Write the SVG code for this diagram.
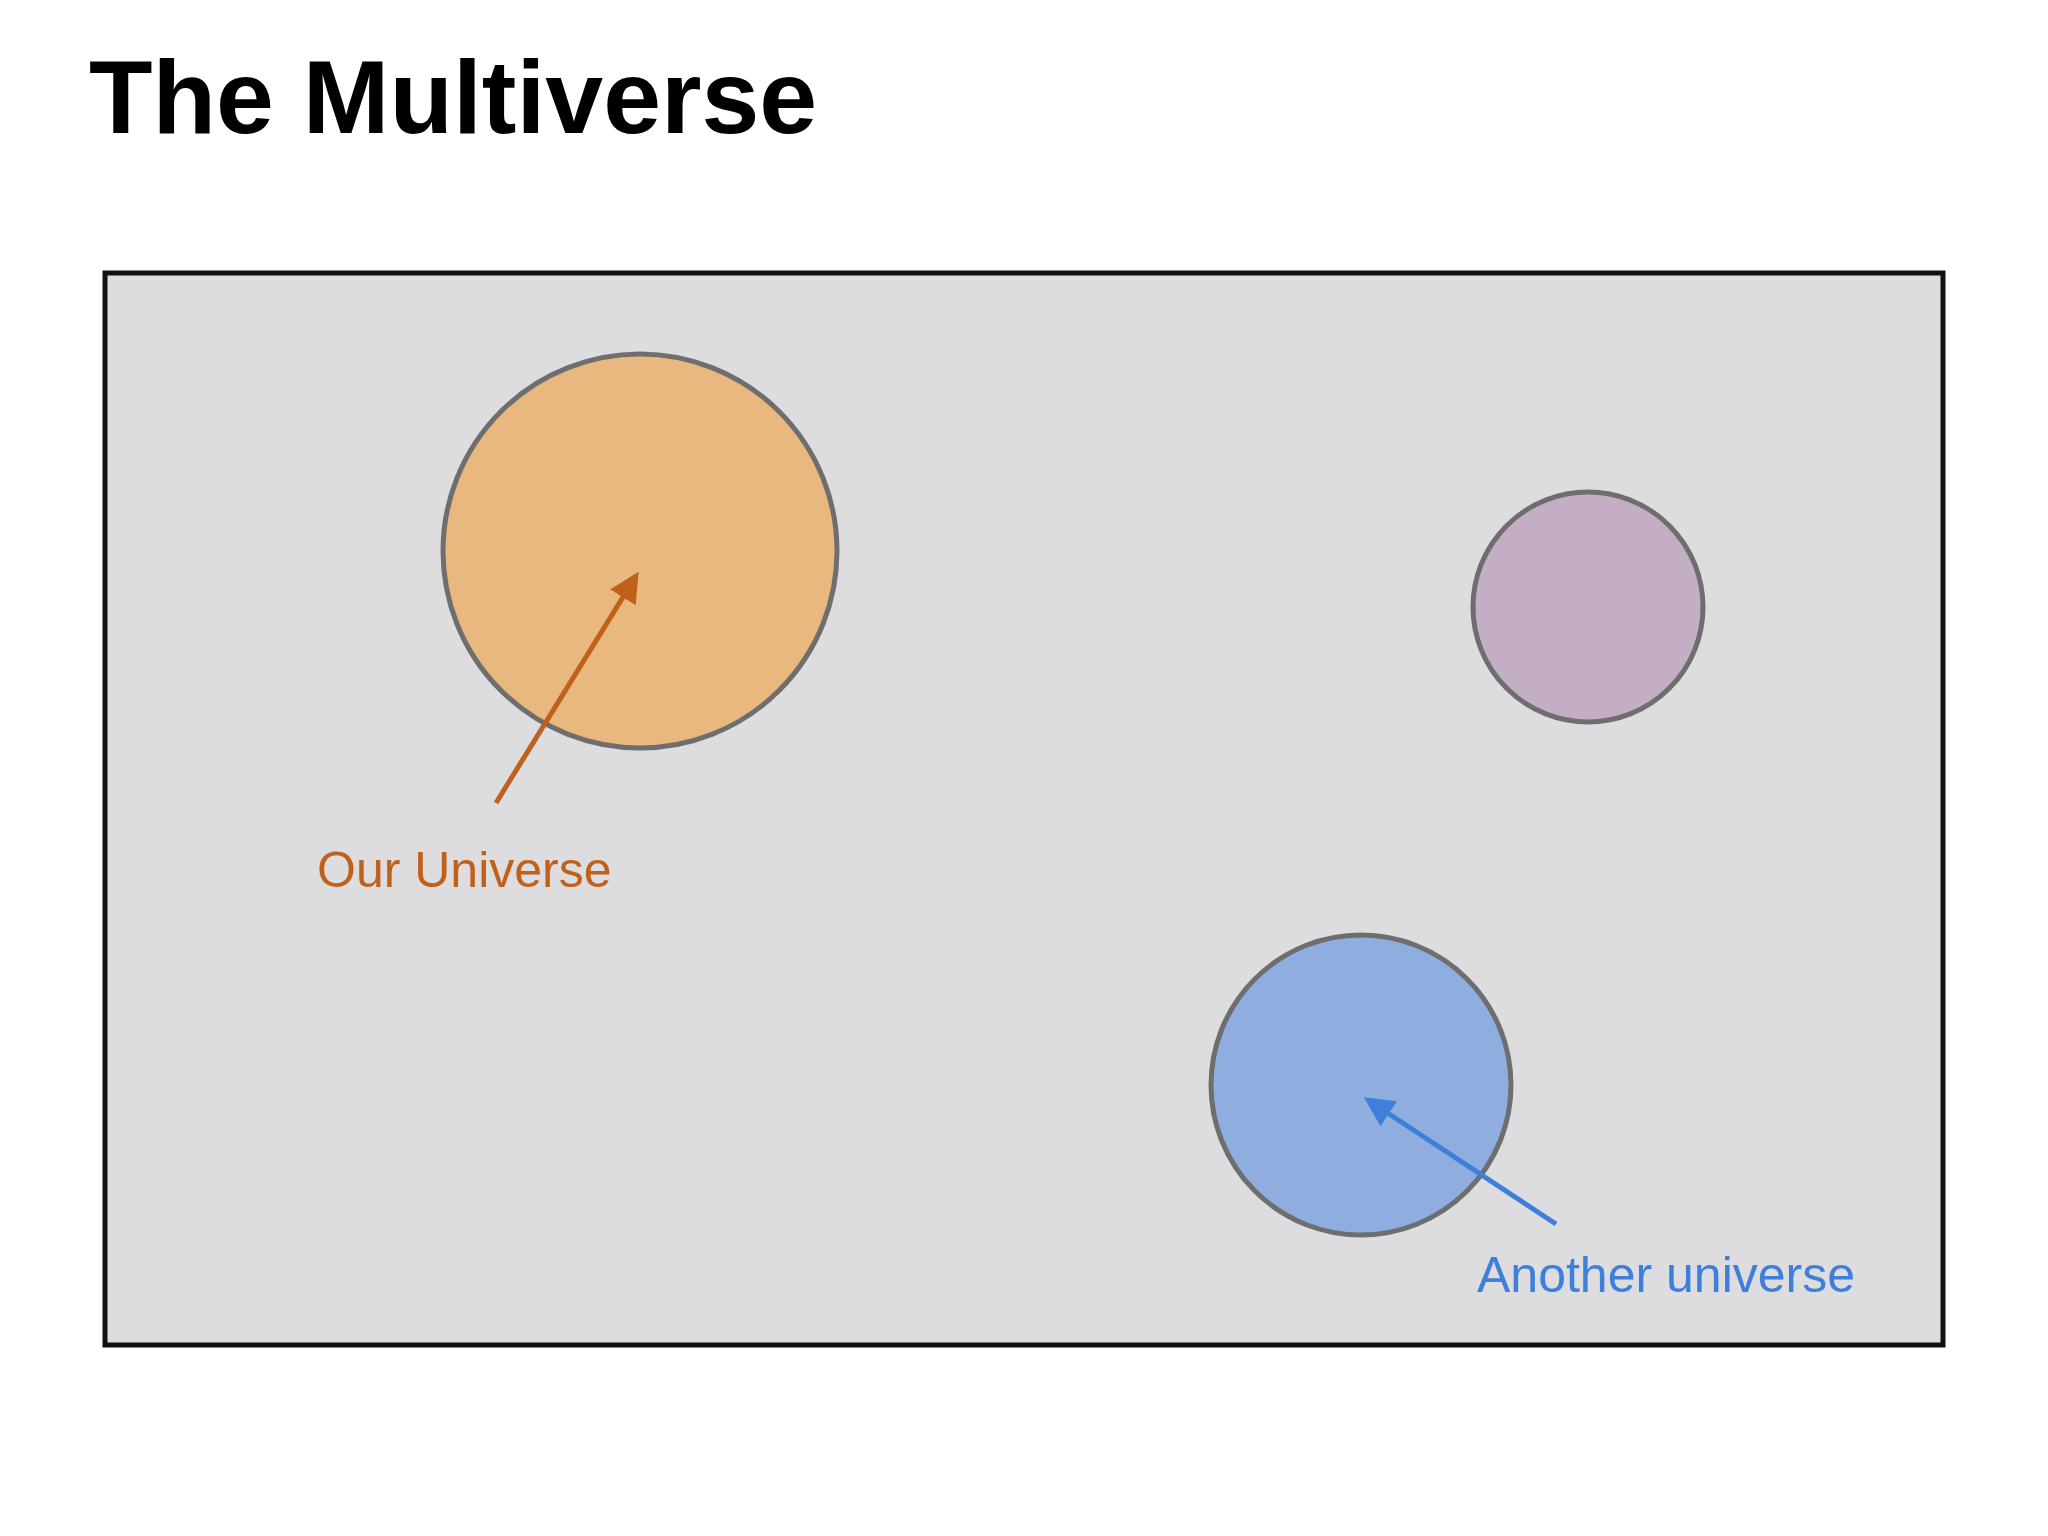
<svg xmlns="http://www.w3.org/2000/svg" width="2048" height="1536" viewBox="0 0 2048 1536">
<style>
.u{stroke:#6e6e6e;stroke-width:5}
.lbl{font-family:"Liberation Sans",Arial,sans-serif;font-size:50px}
</style>
<defs>
<marker id="ao" markerWidth="6" markerHeight="6" refX="5" refY="3" orient="auto"><path d="M0,0 L6,3 L0,6 z" fill="#c0601a"/></marker>
<marker id="ab" markerWidth="6" markerHeight="6" refX="5" refY="3" orient="auto"><path d="M0,0 L6,3 L0,6 z" fill="#3f7fdc"/></marker>
</defs>
<rect width="2048" height="1536" fill="#fff"/>
<text x="89" y="133" font-family="Liberation Sans,Arial,sans-serif" font-size="104" font-weight="bold">The Multiverse</text>
<g id="multiverse"><rect x="105" y="273" width="1838" height="1072" fill="#dddde0" stroke="#111" stroke-width="5"/></g>
<g id="our-universe"><circle class="u" cx="640" cy="551" r="197" fill="#e8b87e"/></g>
<g id="purple-universe"><circle class="u" cx="1588" cy="607" r="115" fill="#c4aec6"/></g>
<g id="another-universe"><circle class="u" cx="1361" cy="1085" r="150" fill="#8fadde"/></g>
<g id="connectors">
<line x1="496" y1="803" x2="636" y2="576" stroke="#c0601a" stroke-width="5" marker-end="url(#ao)"/>
<line x1="1556" y1="1224" x2="1368" y2="1100" stroke="#3f7fdc" stroke-width="5" marker-end="url(#ab)"/>
</g>
<text class="lbl" x="317" y="887" fill="#c0601a">Our Universe</text>
<text class="lbl" x="1477" y="1292" fill="#3f7fdc">Another universe</text>
</svg>
